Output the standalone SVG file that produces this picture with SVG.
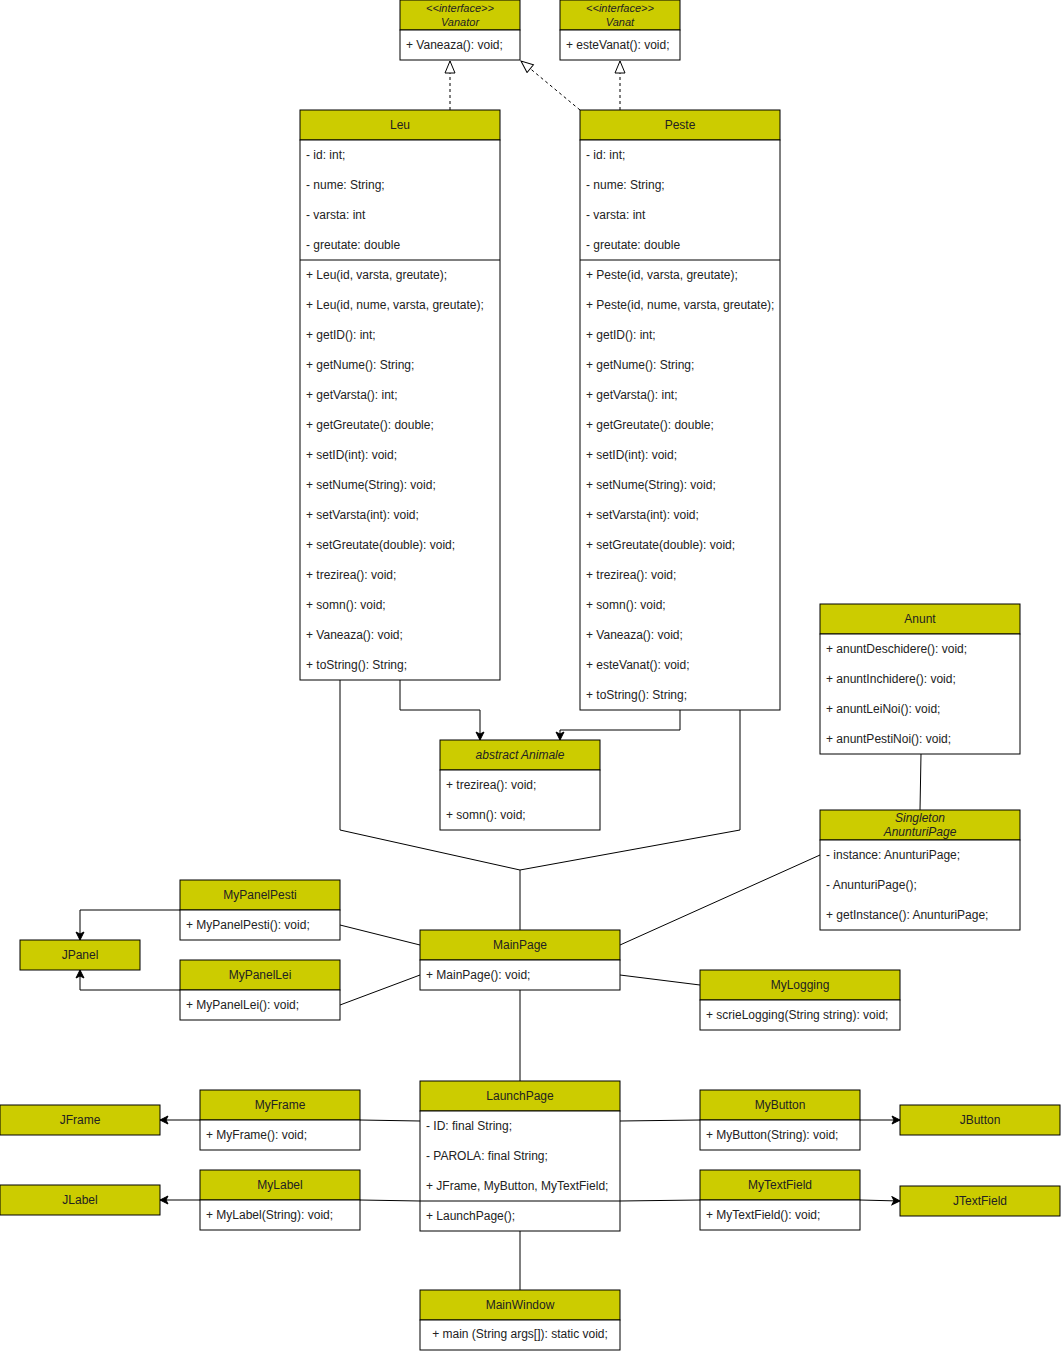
<svg xmlns="http://www.w3.org/2000/svg" width="1061" height="1354" viewBox="0 0 1061 1354">
<style>
text{font-family:"Liberation Sans",Arial,sans-serif;font-size:12px;fill:#222}
.h{fill:#CCCC00;stroke:#000;stroke-width:1}
.b{fill:#fff;stroke:#000;stroke-width:1}
.c{text-anchor:middle}
.i{font-style:italic}
.s{font-size:11px}
.l{fill:none;stroke:#000;stroke-width:1}
.d{stroke-dasharray:3,3}
</style>
<defs>
<marker id="tri" markerWidth="14" markerHeight="12" refX="13" refY="6" orient="auto" markerUnits="userSpaceOnUse"><path d="M1,1 L13,6 L1,11 Z" fill="#fff" stroke="#000"/></marker>
<marker id="arr" markerWidth="10" markerHeight="10" refX="9" refY="5" orient="auto" markerUnits="userSpaceOnUse"><path d="M1,1 L9,5 L1,9 L3,5 Z" fill="#000" stroke="#000"/></marker>
</defs>
<g id="connectors">
<path class="l d" d="M450,110 V61" marker-end="url(#tri)"/>
<path class="l d" d="M620,110 V61" marker-end="url(#tri)"/>
<path class="l d" d="M580,110 L521,61" marker-end="url(#tri)"/>
<path class="l" d="M400,680 V710 H480 V740" marker-end="url(#arr)"/>
<path class="l" d="M680,710 V730 H560 V740" marker-end="url(#arr)"/>
<path class="l" d="M340,680 V830 L520,870 V930"/>
<path class="l" d="M740,710 V830 L520,870"/>
<path class="l" d="M921,754 L920,810"/>
<path class="l" d="M820,855 L620,945"/>
<path class="l" d="M340,925 L420,945"/>
<path class="l" d="M340,1005 L420,975"/>
<path class="l" d="M180,910 H80 V940" marker-end="url(#arr)"/>
<path class="l" d="M180,990 H80 V970" marker-end="url(#arr)"/>
<path class="l" d="M620,975 L700,985"/>
<path class="l" d="M520,990 V1081"/>
<path class="l" d="M200,1120 H160" marker-end="url(#arr)"/>
<path class="l" d="M200,1200 H160" marker-end="url(#arr)"/>
<path class="l" d="M860,1120 H900" marker-end="url(#arr)"/>
<path class="l" d="M860,1200 L900,1201" marker-end="url(#arr)"/>
<path class="l" d="M420,1121 L360,1120"/>
<path class="l" d="M420,1201 L360,1200"/>
<path class="l" d="M620,1121 L700,1120"/>
<path class="l" d="M620,1201 L700,1200"/>
<path class="l" d="M520,1231 V1290"/>
</g>
<g id="Vanator">
<rect class="h" x="400" y="0" width="120" height="30"/><rect class="b" x="400" y="30" width="120" height="30"/>
<text class="c i s" x="460" y="12">&lt;&lt;interface&gt;&gt;</text><text class="c i s" x="460" y="26">Vanator</text>
<text x="406" y="49">+ Vaneaza(): void;</text>
</g>
<g id="Vanat">
<rect class="h" x="560" y="0" width="120" height="30"/><rect class="b" x="560" y="30" width="120" height="30"/>
<text class="c i s" x="620" y="12">&lt;&lt;interface&gt;&gt;</text><text class="c i s" x="620" y="26">Vanat</text>
<text x="566" y="49">+ esteVanat(): void;</text>
</g>
<g id="Leu">
<rect class="h" x="300" y="110" width="200" height="30"/><rect class="b" x="300" y="140" width="200" height="540"/>
<line class="l" x1="300" y1="260" x2="500" y2="260"/>
<text class="c" x="400" y="129">Leu</text>
<text x="306" y="159">- id: int;</text><text x="306" y="189">- nume: String;</text><text x="306" y="219">- varsta: int</text><text x="306" y="249">- greutate: double</text>
<text x="306" y="279">+ Leu(id, varsta, greutate);</text><text x="306" y="309">+ Leu(id, nume, varsta, greutate);</text><text x="306" y="339">+ getID(): int;</text><text x="306" y="369">+ getNume(): String;</text><text x="306" y="399">+ getVarsta(): int;</text><text x="306" y="429">+ getGreutate(): double;</text><text x="306" y="459">+ setID(int): void;</text><text x="306" y="489">+ setNume(String): void;</text><text x="306" y="519">+ setVarsta(int): void;</text><text x="306" y="549">+ setGreutate(double): void;</text><text x="306" y="579">+ trezirea(): void;</text><text x="306" y="609">+ somn(): void;</text><text x="306" y="639">+ Vaneaza(): void;</text><text x="306" y="669">+ toString(): String;</text>
</g>
<g id="Peste">
<rect class="h" x="580" y="110" width="200" height="30"/><rect class="b" x="580" y="140" width="200" height="570"/>
<line class="l" x1="580" y1="260" x2="780" y2="260"/>
<text class="c" x="680" y="129">Peste</text>
<text x="586" y="159">- id: int;</text><text x="586" y="189">- nume: String;</text><text x="586" y="219">- varsta: int</text><text x="586" y="249">- greutate: double</text>
<text x="586" y="279">+ Peste(id, varsta, greutate);</text><text x="586" y="309">+ Peste(id, nume, varsta, greutate);</text><text x="586" y="339">+ getID(): int;</text><text x="586" y="369">+ getNume(): String;</text><text x="586" y="399">+ getVarsta(): int;</text><text x="586" y="429">+ getGreutate(): double;</text><text x="586" y="459">+ setID(int): void;</text><text x="586" y="489">+ setNume(String): void;</text><text x="586" y="519">+ setVarsta(int): void;</text><text x="586" y="549">+ setGreutate(double): void;</text><text x="586" y="579">+ trezirea(): void;</text><text x="586" y="609">+ somn(): void;</text><text x="586" y="639">+ Vaneaza(): void;</text><text x="586" y="669">+ esteVanat(): void;</text><text x="586" y="699">+ toString(): String;</text>
</g>
<g id="Animale">
<rect class="h" x="440" y="740" width="160" height="30"/><rect class="b" x="440" y="770" width="160" height="60"/>
<text class="c i" x="520" y="759">abstract Animale</text>
<text x="446" y="789">+ trezirea(): void;</text><text x="446" y="819">+ somn(): void;</text>
</g>
<g id="Anunt">
<rect class="h" x="820" y="604" width="200" height="30"/><rect class="b" x="820" y="634" width="200" height="120"/>
<text class="c" x="920" y="623">Anunt</text>
<text x="826" y="653">+ anuntDeschidere(): void;</text><text x="826" y="683">+ anuntInchidere(): void;</text><text x="826" y="713">+ anuntLeiNoi(): void;</text><text x="826" y="743">+ anuntPestiNoi(): void;</text>
</g>
<g id="AnunturiPage">
<rect class="h" x="820" y="810" width="200" height="30"/><rect class="b" x="820" y="840" width="200" height="90"/>
<text class="c i" x="920" y="822">Singleton</text><text class="c i" x="920" y="836">AnunturiPage</text>
<text x="826" y="859">- instance: AnunturiPage;</text><text x="826" y="889">- AnunturiPage();</text><text x="826" y="919">+ getInstance(): AnunturiPage;</text>
</g>
<g id="MainPage">
<rect class="h" x="420" y="930" width="200" height="30"/><rect class="b" x="420" y="960" width="200" height="30"/>
<text class="c" x="520" y="949">MainPage</text><text x="426" y="979">+ MainPage(): void;</text>
</g>
<g id="MyPanelPesti">
<rect class="h" x="180" y="880" width="160" height="30"/><rect class="b" x="180" y="910" width="160" height="30"/>
<text class="c" x="260" y="899">MyPanelPesti</text><text x="186" y="929">+ MyPanelPesti(): void;</text>
</g>
<g id="MyPanelLei">
<rect class="h" x="180" y="960" width="160" height="30"/><rect class="b" x="180" y="990" width="160" height="30"/>
<text class="c" x="260" y="979">MyPanelLei</text><text x="186" y="1009">+ MyPanelLei(): void;</text>
</g>
<g id="JPanel"><rect class="h" x="20" y="940" width="120" height="30"/><text class="c" x="80" y="959">JPanel</text></g>
<g id="MyLogging">
<rect class="h" x="700" y="970" width="200" height="30"/><rect class="b" x="700" y="1000" width="200" height="30"/>
<text class="c" x="800" y="989">MyLogging</text><text x="706" y="1019">+ scrieLogging(String string): void;</text>
</g>
<g id="LaunchPage">
<rect class="h" x="420" y="1081" width="200" height="30"/><rect class="b" x="420" y="1111" width="200" height="120"/>
<line class="l" x1="420" y1="1201" x2="620" y2="1201"/>
<text class="c" x="520" y="1100">LaunchPage</text>
<text x="426" y="1130">- ID: final String;</text><text x="426" y="1160">- PAROLA: final String;</text><text x="426" y="1190">+ JFrame, MyButton, MyTextField;</text><text x="426" y="1220">+ LaunchPage();</text>
</g>
<g id="MyFrame">
<rect class="h" x="200" y="1090" width="160" height="30"/><rect class="b" x="200" y="1120" width="160" height="30"/>
<text class="c" x="280" y="1109">MyFrame</text><text x="206" y="1139">+ MyFrame(): void;</text>
</g>
<g id="MyLabel">
<rect class="h" x="200" y="1170" width="160" height="30"/><rect class="b" x="200" y="1200" width="160" height="30"/>
<text class="c" x="280" y="1189">MyLabel</text><text x="206" y="1219">+ MyLabel(String): void;</text>
</g>
<g id="JFrame"><rect class="h" x="0" y="1105" width="160" height="30"/><text class="c" x="80" y="1124">JFrame</text></g>
<g id="JLabel"><rect class="h" x="0" y="1185" width="160" height="30"/><text class="c" x="80" y="1204">JLabel</text></g>
<g id="MyButton">
<rect class="h" x="700" y="1090" width="160" height="30"/><rect class="b" x="700" y="1120" width="160" height="30"/>
<text class="c" x="780" y="1109">MyButton</text><text x="706" y="1139">+ MyButton(String): void;</text>
</g>
<g id="MyTextField">
<rect class="h" x="700" y="1170" width="160" height="30"/><rect class="b" x="700" y="1200" width="160" height="30"/>
<text class="c" x="780" y="1189">MyTextField</text><text x="706" y="1219">+ MyTextField(): void;</text>
</g>
<g id="JButton"><rect class="h" x="900" y="1105" width="160" height="30"/><text class="c" x="980" y="1124">JButton</text></g>
<g id="JTextField"><rect class="h" x="900" y="1186" width="160" height="30"/><text class="c" x="980" y="1205">JTextField</text></g>
<g id="MainWindow">
<rect class="h" x="420" y="1290" width="200" height="30"/><rect class="b" x="420" y="1320" width="200" height="30"/>
<text class="c" x="520" y="1309">MainWindow</text><text class="c" x="520" y="1338">+ main (String args[]): static void;</text>
</g>
</svg>
